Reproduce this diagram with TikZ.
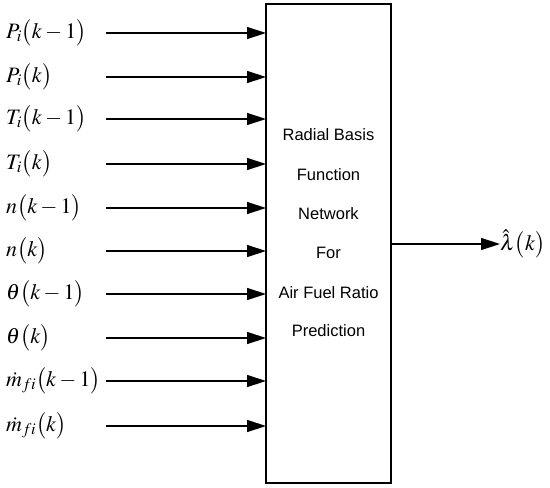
\documentclass[tikz,border=0pt]{standalone}
\usepackage{mathptmx}
\usepackage{fontspec}
\newfontfamily\arial{Liberation Sans}
\usetikzlibrary{arrows.meta}
\begin{document}
\begin{tikzpicture}[x=1pt,y=-1pt,
  inlabel/.style={anchor=west,inner sep=0pt,font=\fontsize{22}{26}\selectfont},
  arr/.style={line width=1.4pt,-{Triangle[length=19pt,width=12pt]}},
  boxtext/.style={font=\arial\fontsize{16.5}{19}\selectfont,inner sep=0pt}]
\useasboundingbox (0,0) rectangle (550,488);
\draw[line width=1.4pt] (266,4) rectangle (391,483);
\foreach \y/\lab/\n in {33/{P_i\bigl(k-1\bigr)}/1, 77/{P_i\bigl(k\bigr)}/2, 119/{T_i\bigl(k-1\bigr)}/3, 164/{T_i\bigl(k\bigr)}/4,
  208/{n\bigl(k-1\bigr)}/5, 251/{n\bigl(k\bigr)}/6, 294/{\theta\bigl(k-1\bigr)}/7, 338/{\theta\bigl(k\bigr)}/8,
  381/{\dot m_{fi}\bigl(k-1\bigr)}/9, 426/{\dot m_{fi}\bigl(k\bigr)}/10}{
  \node[inlabel] (l\n) at (6,\y) {$\lab$};
  \coordinate (s\n) at (106,\y);
  \coordinate (e\n) at (266,\y);
  \draw[arr] (s\n) -- (e\n);
}
\foreach \y/\t/\n in {135/Radial Basis/1,175/Function/2,214/Network/3,253/For/4,293/Air Fuel Ratio/5,331/Prediction/6}{
  \node[boxtext] (t\n) at (328.5,\y) {\t};
}
\coordinate (o1) at (391,244);
\node[inlabel] (out) at (500,244) {$\hat\lambda\bigl(k\bigr)$};
\draw[arr] (o1) -- (out.west);
\end{tikzpicture}
\end{document}
